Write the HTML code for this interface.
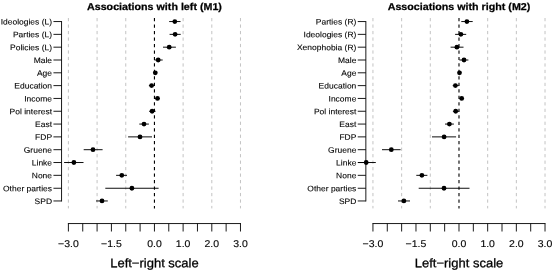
<!DOCTYPE html>
<html><head><meta charset="utf-8"><title>Associations</title>
<style>
html,body{margin:0;padding:0;background:#fff;}
svg{display:block;text-rendering:geometricPrecision;font-family:"Liberation Sans",sans-serif;fill:#000;}
</style></head><body>
<svg width="553" height="270" viewBox="0 0 553 270">
<rect x="0" y="0" width="553" height="270" fill="#fff"/>
<line x1="68.40" y1="18" x2="68.40" y2="208.4" stroke="#b4b4b4" stroke-width="0.8" stroke-dasharray="3.24 3.24"/>
<line x1="97.08" y1="18" x2="97.08" y2="208.4" stroke="#b4b4b4" stroke-width="0.8" stroke-dasharray="3.24 3.24"/>
<line x1="125.76" y1="18" x2="125.76" y2="208.4" stroke="#b4b4b4" stroke-width="0.8" stroke-dasharray="3.24 3.24"/>
<line x1="183.12" y1="18" x2="183.12" y2="208.4" stroke="#b4b4b4" stroke-width="0.8" stroke-dasharray="3.24 3.24"/>
<line x1="211.80" y1="18" x2="211.80" y2="208.4" stroke="#b4b4b4" stroke-width="0.8" stroke-dasharray="3.24 3.24"/>
<line x1="240.48" y1="18" x2="240.48" y2="208.4" stroke="#b4b4b4" stroke-width="0.8" stroke-dasharray="3.24 3.24"/>
<line x1="154.44" y1="18" x2="154.44" y2="208.4" stroke="#000" stroke-width="1.1" stroke-dasharray="3.24 3.24"/>
<path d="M61.55 21.55V200.96" stroke="#000" stroke-width="0.9" fill="none" stroke-linecap="square"/>
<line x1="53.45" y1="21.55" x2="61.55" y2="21.55" stroke="#000" stroke-width="0.9"/>
<text transform="matrix(1.06 0.0015 0 1 52.05 24.55)" text-anchor="end" font-size="8.0" stroke="#000" stroke-width="0.1">Ideologies (L)</text>
<line x1="53.45" y1="34.37" x2="61.55" y2="34.37" stroke="#000" stroke-width="0.9"/>
<text transform="matrix(1.06 0.0015 0 1 52.05 37.37)" text-anchor="end" font-size="8.0" stroke="#000" stroke-width="0.1">Parties (L)</text>
<line x1="53.45" y1="47.18" x2="61.55" y2="47.18" stroke="#000" stroke-width="0.9"/>
<text transform="matrix(1.06 0.0015 0 1 52.05 50.18)" text-anchor="end" font-size="8.0" stroke="#000" stroke-width="0.1">Policies (L)</text>
<line x1="53.45" y1="60.00" x2="61.55" y2="60.00" stroke="#000" stroke-width="0.9"/>
<text transform="matrix(1.06 0.0015 0 1 52.05 63.00)" text-anchor="end" font-size="8.0" stroke="#000" stroke-width="0.1">Male</text>
<line x1="53.45" y1="72.81" x2="61.55" y2="72.81" stroke="#000" stroke-width="0.9"/>
<text transform="matrix(1.06 0.0015 0 1 52.05 75.81)" text-anchor="end" font-size="8.0" stroke="#000" stroke-width="0.1">Age</text>
<line x1="53.45" y1="85.62" x2="61.55" y2="85.62" stroke="#000" stroke-width="0.9"/>
<text transform="matrix(1.06 0.0015 0 1 52.05 88.62)" text-anchor="end" font-size="8.0" stroke="#000" stroke-width="0.1">Education</text>
<line x1="53.45" y1="98.44" x2="61.55" y2="98.44" stroke="#000" stroke-width="0.9"/>
<text transform="matrix(1.06 0.0015 0 1 52.05 101.44)" text-anchor="end" font-size="8.0" stroke="#000" stroke-width="0.1">Income</text>
<line x1="53.45" y1="111.25" x2="61.55" y2="111.25" stroke="#000" stroke-width="0.9"/>
<text transform="matrix(1.06 0.0015 0 1 52.05 114.25)" text-anchor="end" font-size="8.0" stroke="#000" stroke-width="0.1">Pol interest</text>
<line x1="53.45" y1="124.07" x2="61.55" y2="124.07" stroke="#000" stroke-width="0.9"/>
<text transform="matrix(1.06 0.0015 0 1 52.05 127.07)" text-anchor="end" font-size="8.0" stroke="#000" stroke-width="0.1">East</text>
<line x1="53.45" y1="136.88" x2="61.55" y2="136.88" stroke="#000" stroke-width="0.9"/>
<text transform="matrix(1.06 0.0015 0 1 52.05 139.88)" text-anchor="end" font-size="8.0" stroke="#000" stroke-width="0.1">FDP</text>
<line x1="53.45" y1="149.70" x2="61.55" y2="149.70" stroke="#000" stroke-width="0.9"/>
<text transform="matrix(1.06 0.0015 0 1 52.05 152.70)" text-anchor="end" font-size="8.0" stroke="#000" stroke-width="0.1">Gruene</text>
<line x1="53.45" y1="162.52" x2="61.55" y2="162.52" stroke="#000" stroke-width="0.9"/>
<text transform="matrix(1.06 0.0015 0 1 52.05 165.52)" text-anchor="end" font-size="8.0" stroke="#000" stroke-width="0.1">Linke</text>
<line x1="53.45" y1="175.33" x2="61.55" y2="175.33" stroke="#000" stroke-width="0.9"/>
<text transform="matrix(1.06 0.0015 0 1 52.05 178.33)" text-anchor="end" font-size="8.0" stroke="#000" stroke-width="0.1">None</text>
<line x1="53.45" y1="188.25" x2="61.55" y2="188.25" stroke="#000" stroke-width="0.9"/>
<text transform="matrix(1.06 0.0015 0 1 52.05 191.25)" text-anchor="end" font-size="8.0" stroke="#000" stroke-width="0.1">Other parties</text>
<line x1="53.45" y1="200.96" x2="61.55" y2="200.96" stroke="#000" stroke-width="0.9"/>
<text transform="matrix(1.06 0.0015 0 1 52.05 203.96)" text-anchor="end" font-size="8.0" stroke="#000" stroke-width="0.1">SPD</text>
<path d="M68.40 223.55H240.48" stroke="#000" stroke-width="0.9" fill="none" stroke-linecap="square"/>
<line x1="68.40" y1="223.55" x2="68.40" y2="231.5" stroke="#000" stroke-width="0.9"/>
<line x1="82.74" y1="223.55" x2="82.74" y2="231.5" stroke="#000" stroke-width="0.9"/>
<line x1="97.08" y1="223.55" x2="97.08" y2="231.5" stroke="#000" stroke-width="0.9"/>
<line x1="111.42" y1="223.55" x2="111.42" y2="231.5" stroke="#000" stroke-width="0.9"/>
<line x1="125.76" y1="223.55" x2="125.76" y2="231.5" stroke="#000" stroke-width="0.9"/>
<line x1="140.10" y1="223.55" x2="140.10" y2="231.5" stroke="#000" stroke-width="0.9"/>
<line x1="154.44" y1="223.55" x2="154.44" y2="231.5" stroke="#000" stroke-width="0.9"/>
<line x1="168.78" y1="223.55" x2="168.78" y2="231.5" stroke="#000" stroke-width="0.9"/>
<line x1="183.12" y1="223.55" x2="183.12" y2="231.5" stroke="#000" stroke-width="0.9"/>
<line x1="197.46" y1="223.55" x2="197.46" y2="231.5" stroke="#000" stroke-width="0.9"/>
<line x1="211.80" y1="223.55" x2="211.80" y2="231.5" stroke="#000" stroke-width="0.9"/>
<line x1="226.14" y1="223.55" x2="226.14" y2="231.5" stroke="#000" stroke-width="0.9"/>
<line x1="240.48" y1="223.55" x2="240.48" y2="231.5" stroke="#000" stroke-width="0.9"/>
<text transform="matrix(1.07 0.0015 0 1 68.40 247.10)" text-anchor="middle" font-size="9.8" stroke="#000" stroke-width="0.12">−3.0</text>
<text transform="matrix(1.07 0.0015 0 1 111.42 247.10)" text-anchor="middle" font-size="9.8" stroke="#000" stroke-width="0.12">−1.5</text>
<text transform="matrix(1.07 0.0015 0 1 154.44 247.10)" text-anchor="middle" font-size="9.8" stroke="#000" stroke-width="0.12">0.0</text>
<text transform="matrix(1.07 0.0015 0 1 183.12 247.10)" text-anchor="middle" font-size="9.8" stroke="#000" stroke-width="0.12">1.0</text>
<text transform="matrix(1.07 0.0015 0 1 211.80 247.10)" text-anchor="middle" font-size="9.8" stroke="#000" stroke-width="0.12">2.0</text>
<text transform="matrix(1.07 0.0015 0 1 240.48 247.10)" text-anchor="middle" font-size="9.8" stroke="#000" stroke-width="0.12">3.0</text>
<text transform="matrix(1.04 0.0015 0 1 154.44 267.20)" text-anchor="middle" font-size="12.5" stroke="#000" stroke-width="0.28">Left−right scale</text>
<text transform="matrix(1.07 0.0015 0 1 154.44 10.00)" text-anchor="middle" font-size="10.0" font-weight="bold" stroke="#000" stroke-width="0.25">Associations with left (M1)</text>
<line x1="169.20" y1="21.55" x2="180.50" y2="21.55" stroke="#000" stroke-width="0.95"/>
<circle cx="174.80" cy="21.55" r="2.4" fill="#000"/>
<line x1="169.60" y1="34.37" x2="180.70" y2="34.37" stroke="#000" stroke-width="0.95"/>
<circle cx="175.10" cy="34.37" r="2.4" fill="#000"/>
<line x1="163.00" y1="47.18" x2="175.90" y2="47.18" stroke="#000" stroke-width="0.95"/>
<circle cx="169.20" cy="47.18" r="2.4" fill="#000"/>
<line x1="154.40" y1="60.00" x2="162.70" y2="60.00" stroke="#000" stroke-width="0.95"/>
<circle cx="158.20" cy="60.00" r="2.4" fill="#000"/>
<line x1="154.30" y1="72.81" x2="156.30" y2="72.81" stroke="#000" stroke-width="0.95"/>
<circle cx="155.30" cy="72.81" r="2.4" fill="#000"/>
<line x1="148.90" y1="85.62" x2="154.40" y2="85.62" stroke="#000" stroke-width="0.95"/>
<circle cx="151.60" cy="85.62" r="2.4" fill="#000"/>
<line x1="155.20" y1="98.44" x2="159.80" y2="98.44" stroke="#000" stroke-width="0.95"/>
<circle cx="157.50" cy="98.44" r="2.4" fill="#000"/>
<line x1="149.20" y1="111.25" x2="155.60" y2="111.25" stroke="#000" stroke-width="0.95"/>
<circle cx="152.10" cy="111.25" r="2.4" fill="#000"/>
<line x1="139.30" y1="124.07" x2="148.90" y2="124.07" stroke="#000" stroke-width="0.95"/>
<circle cx="144.00" cy="124.07" r="2.4" fill="#000"/>
<line x1="128.10" y1="136.88" x2="152.00" y2="136.88" stroke="#000" stroke-width="0.95"/>
<circle cx="140.00" cy="136.88" r="2.4" fill="#000"/>
<line x1="83.70" y1="149.70" x2="102.60" y2="149.70" stroke="#000" stroke-width="0.95"/>
<circle cx="93.00" cy="149.70" r="2.4" fill="#000"/>
<line x1="64.10" y1="162.52" x2="83.50" y2="162.52" stroke="#000" stroke-width="0.95"/>
<circle cx="73.90" cy="162.52" r="2.4" fill="#000"/>
<line x1="116.10" y1="175.33" x2="127.00" y2="175.33" stroke="#000" stroke-width="0.95"/>
<circle cx="121.80" cy="175.33" r="2.4" fill="#000"/>
<line x1="105.30" y1="188.25" x2="158.60" y2="188.25" stroke="#000" stroke-width="0.95"/>
<circle cx="131.90" cy="188.25" r="2.4" fill="#000"/>
<line x1="96.00" y1="200.96" x2="107.80" y2="200.96" stroke="#000" stroke-width="0.95"/>
<circle cx="102.00" cy="200.96" r="2.4" fill="#000"/>
<line x1="372.95" y1="18" x2="372.95" y2="208.4" stroke="#b4b4b4" stroke-width="0.8" stroke-dasharray="3.24 3.24"/>
<line x1="401.63" y1="18" x2="401.63" y2="208.4" stroke="#b4b4b4" stroke-width="0.8" stroke-dasharray="3.24 3.24"/>
<line x1="430.31" y1="18" x2="430.31" y2="208.4" stroke="#b4b4b4" stroke-width="0.8" stroke-dasharray="3.24 3.24"/>
<line x1="487.67" y1="18" x2="487.67" y2="208.4" stroke="#b4b4b4" stroke-width="0.8" stroke-dasharray="3.24 3.24"/>
<line x1="516.35" y1="18" x2="516.35" y2="208.4" stroke="#b4b4b4" stroke-width="0.8" stroke-dasharray="3.24 3.24"/>
<line x1="545.03" y1="18" x2="545.03" y2="208.4" stroke="#b4b4b4" stroke-width="0.8" stroke-dasharray="3.24 3.24"/>
<line x1="458.99" y1="18" x2="458.99" y2="208.4" stroke="#000" stroke-width="1.1" stroke-dasharray="3.24 3.24"/>
<path d="M365.85 21.55V200.96" stroke="#000" stroke-width="0.9" fill="none" stroke-linecap="square"/>
<line x1="357.75" y1="21.55" x2="365.85" y2="21.55" stroke="#000" stroke-width="0.9"/>
<text transform="matrix(1.06 0.0015 0 1 356.35 24.55)" text-anchor="end" font-size="8.0" stroke="#000" stroke-width="0.1">Parties (R)</text>
<line x1="357.75" y1="34.37" x2="365.85" y2="34.37" stroke="#000" stroke-width="0.9"/>
<text transform="matrix(1.06 0.0015 0 1 356.35 37.37)" text-anchor="end" font-size="8.0" stroke="#000" stroke-width="0.1">Ideologies (R)</text>
<line x1="357.75" y1="47.18" x2="365.85" y2="47.18" stroke="#000" stroke-width="0.9"/>
<text transform="matrix(1.06 0.0015 0 1 356.35 50.18)" text-anchor="end" font-size="8.0" stroke="#000" stroke-width="0.1">Xenophobia (R)</text>
<line x1="357.75" y1="60.00" x2="365.85" y2="60.00" stroke="#000" stroke-width="0.9"/>
<text transform="matrix(1.06 0.0015 0 1 356.35 63.00)" text-anchor="end" font-size="8.0" stroke="#000" stroke-width="0.1">Male</text>
<line x1="357.75" y1="72.81" x2="365.85" y2="72.81" stroke="#000" stroke-width="0.9"/>
<text transform="matrix(1.06 0.0015 0 1 356.35 75.81)" text-anchor="end" font-size="8.0" stroke="#000" stroke-width="0.1">Age</text>
<line x1="357.75" y1="85.62" x2="365.85" y2="85.62" stroke="#000" stroke-width="0.9"/>
<text transform="matrix(1.06 0.0015 0 1 356.35 88.62)" text-anchor="end" font-size="8.0" stroke="#000" stroke-width="0.1">Education</text>
<line x1="357.75" y1="98.44" x2="365.85" y2="98.44" stroke="#000" stroke-width="0.9"/>
<text transform="matrix(1.06 0.0015 0 1 356.35 101.44)" text-anchor="end" font-size="8.0" stroke="#000" stroke-width="0.1">Income</text>
<line x1="357.75" y1="111.25" x2="365.85" y2="111.25" stroke="#000" stroke-width="0.9"/>
<text transform="matrix(1.06 0.0015 0 1 356.35 114.25)" text-anchor="end" font-size="8.0" stroke="#000" stroke-width="0.1">Pol interest</text>
<line x1="357.75" y1="124.07" x2="365.85" y2="124.07" stroke="#000" stroke-width="0.9"/>
<text transform="matrix(1.06 0.0015 0 1 356.35 127.07)" text-anchor="end" font-size="8.0" stroke="#000" stroke-width="0.1">East</text>
<line x1="357.75" y1="136.88" x2="365.85" y2="136.88" stroke="#000" stroke-width="0.9"/>
<text transform="matrix(1.06 0.0015 0 1 356.35 139.88)" text-anchor="end" font-size="8.0" stroke="#000" stroke-width="0.1">FDP</text>
<line x1="357.75" y1="149.70" x2="365.85" y2="149.70" stroke="#000" stroke-width="0.9"/>
<text transform="matrix(1.06 0.0015 0 1 356.35 152.70)" text-anchor="end" font-size="8.0" stroke="#000" stroke-width="0.1">Gruene</text>
<line x1="357.75" y1="162.52" x2="365.85" y2="162.52" stroke="#000" stroke-width="0.9"/>
<text transform="matrix(1.06 0.0015 0 1 356.35 165.52)" text-anchor="end" font-size="8.0" stroke="#000" stroke-width="0.1">Linke</text>
<line x1="357.75" y1="175.33" x2="365.85" y2="175.33" stroke="#000" stroke-width="0.9"/>
<text transform="matrix(1.06 0.0015 0 1 356.35 178.33)" text-anchor="end" font-size="8.0" stroke="#000" stroke-width="0.1">None</text>
<line x1="357.75" y1="188.25" x2="365.85" y2="188.25" stroke="#000" stroke-width="0.9"/>
<text transform="matrix(1.06 0.0015 0 1 356.35 191.25)" text-anchor="end" font-size="8.0" stroke="#000" stroke-width="0.1">Other parties</text>
<line x1="357.75" y1="200.96" x2="365.85" y2="200.96" stroke="#000" stroke-width="0.9"/>
<text transform="matrix(1.06 0.0015 0 1 356.35 203.96)" text-anchor="end" font-size="8.0" stroke="#000" stroke-width="0.1">SPD</text>
<path d="M372.95 223.55H545.03" stroke="#000" stroke-width="0.9" fill="none" stroke-linecap="square"/>
<line x1="372.95" y1="223.55" x2="372.95" y2="231.5" stroke="#000" stroke-width="0.9"/>
<line x1="387.29" y1="223.55" x2="387.29" y2="231.5" stroke="#000" stroke-width="0.9"/>
<line x1="401.63" y1="223.55" x2="401.63" y2="231.5" stroke="#000" stroke-width="0.9"/>
<line x1="415.97" y1="223.55" x2="415.97" y2="231.5" stroke="#000" stroke-width="0.9"/>
<line x1="430.31" y1="223.55" x2="430.31" y2="231.5" stroke="#000" stroke-width="0.9"/>
<line x1="444.65" y1="223.55" x2="444.65" y2="231.5" stroke="#000" stroke-width="0.9"/>
<line x1="458.99" y1="223.55" x2="458.99" y2="231.5" stroke="#000" stroke-width="0.9"/>
<line x1="473.33" y1="223.55" x2="473.33" y2="231.5" stroke="#000" stroke-width="0.9"/>
<line x1="487.67" y1="223.55" x2="487.67" y2="231.5" stroke="#000" stroke-width="0.9"/>
<line x1="502.01" y1="223.55" x2="502.01" y2="231.5" stroke="#000" stroke-width="0.9"/>
<line x1="516.35" y1="223.55" x2="516.35" y2="231.5" stroke="#000" stroke-width="0.9"/>
<line x1="530.69" y1="223.55" x2="530.69" y2="231.5" stroke="#000" stroke-width="0.9"/>
<line x1="545.03" y1="223.55" x2="545.03" y2="231.5" stroke="#000" stroke-width="0.9"/>
<text transform="matrix(1.07 0.0015 0 1 372.95 247.10)" text-anchor="middle" font-size="9.8" stroke="#000" stroke-width="0.12">−3.0</text>
<text transform="matrix(1.07 0.0015 0 1 415.97 247.10)" text-anchor="middle" font-size="9.8" stroke="#000" stroke-width="0.12">−1.5</text>
<text transform="matrix(1.07 0.0015 0 1 458.99 247.10)" text-anchor="middle" font-size="9.8" stroke="#000" stroke-width="0.12">0.0</text>
<text transform="matrix(1.07 0.0015 0 1 487.67 247.10)" text-anchor="middle" font-size="9.8" stroke="#000" stroke-width="0.12">1.0</text>
<text transform="matrix(1.07 0.0015 0 1 516.35 247.10)" text-anchor="middle" font-size="9.8" stroke="#000" stroke-width="0.12">2.0</text>
<text transform="matrix(1.07 0.0015 0 1 545.03 247.10)" text-anchor="middle" font-size="9.8" stroke="#000" stroke-width="0.12">3.0</text>
<text transform="matrix(1.04 0.0015 0 1 458.99 267.20)" text-anchor="middle" font-size="12.5" stroke="#000" stroke-width="0.28">Left−right scale</text>
<text transform="matrix(1.07 0.0015 0 1 458.99 10.00)" text-anchor="middle" font-size="10.0" font-weight="bold" stroke="#000" stroke-width="0.25">Associations with right (M2)</text>
<line x1="461.30" y1="21.55" x2="472.70" y2="21.55" stroke="#000" stroke-width="0.95"/>
<circle cx="466.90" cy="21.55" r="2.4" fill="#000"/>
<line x1="455.10" y1="34.37" x2="466.20" y2="34.37" stroke="#000" stroke-width="0.95"/>
<circle cx="460.90" cy="34.37" r="2.4" fill="#000"/>
<line x1="450.60" y1="47.18" x2="463.50" y2="47.18" stroke="#000" stroke-width="0.95"/>
<circle cx="456.90" cy="47.18" r="2.4" fill="#000"/>
<line x1="459.40" y1="60.00" x2="468.40" y2="60.00" stroke="#000" stroke-width="0.95"/>
<circle cx="464.00" cy="60.00" r="2.4" fill="#000"/>
<line x1="458.50" y1="72.81" x2="460.50" y2="72.81" stroke="#000" stroke-width="0.95"/>
<circle cx="459.50" cy="72.81" r="2.4" fill="#000"/>
<line x1="452.70" y1="85.62" x2="458.80" y2="85.62" stroke="#000" stroke-width="0.95"/>
<circle cx="455.40" cy="85.62" r="2.4" fill="#000"/>
<line x1="459.50" y1="98.44" x2="464.00" y2="98.44" stroke="#000" stroke-width="0.95"/>
<circle cx="461.70" cy="98.44" r="2.4" fill="#000"/>
<line x1="452.90" y1="111.25" x2="458.80" y2="111.25" stroke="#000" stroke-width="0.95"/>
<circle cx="455.70" cy="111.25" r="2.4" fill="#000"/>
<line x1="445.00" y1="124.07" x2="453.90" y2="124.07" stroke="#000" stroke-width="0.95"/>
<circle cx="449.40" cy="124.07" r="2.4" fill="#000"/>
<line x1="432.00" y1="136.88" x2="456.10" y2="136.88" stroke="#000" stroke-width="0.95"/>
<circle cx="444.10" cy="136.88" r="2.4" fill="#000"/>
<line x1="382.00" y1="149.70" x2="400.60" y2="149.70" stroke="#000" stroke-width="0.95"/>
<circle cx="391.30" cy="149.70" r="2.4" fill="#000"/>
<line x1="358.00" y1="162.52" x2="375.80" y2="162.52" stroke="#000" stroke-width="0.95"/>
<circle cx="366.20" cy="162.52" r="2.4" fill="#000"/>
<line x1="416.30" y1="175.33" x2="427.40" y2="175.33" stroke="#000" stroke-width="0.95"/>
<circle cx="421.90" cy="175.33" r="2.4" fill="#000"/>
<line x1="418.70" y1="188.25" x2="469.50" y2="188.25" stroke="#000" stroke-width="0.95"/>
<circle cx="444.00" cy="188.25" r="2.4" fill="#000"/>
<line x1="398.00" y1="200.96" x2="410.00" y2="200.96" stroke="#000" stroke-width="0.95"/>
<circle cx="403.90" cy="200.96" r="2.4" fill="#000"/>
</svg>
</body></html>
